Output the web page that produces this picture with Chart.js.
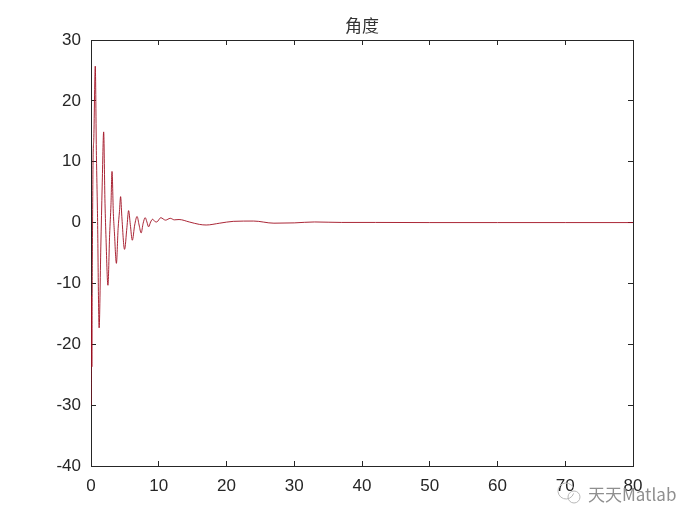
<!DOCTYPE html>
<html>
<head>
<meta charset="utf-8">
<style>
    html, body { margin: 0; padding: 0; background: #fff; }
    canvas { display: block; }
</style>
<script src="https://cdn.jsdelivr.net/npm/chart.js@4/dist/chart.umd.min.js"></script>
</head>
<body>
<canvas id="angleChart" width="700" height="525"></canvas>
<script>
// Values
const chartTitle = "角度";
const timeValues = [0, 0.05, 0.12, 0.2, 0.3, 0.42, 0.63, 0.8, 0.95, 1.2, 1.45, 1.65, 1.87, 2.05, 2.2, 2.5, 2.75, 2.95, 3.1, 3.3, 3.45, 3.75, 4.0, 4.2, 4.37, 4.55, 4.95, 5.3, 5.55, 5.8, 6.1, 6.45, 6.8, 7.1, 7.4, 7.7, 8.0, 8.25, 8.5, 8.8, 9.1, 9.4, 9.7, 10.3, 11.0, 11.7, 12.3, 13, 14.5, 16, 17, 19, 21, 24, 27, 30, 33, 37, 42, 50, 60, 70, 80];
const angleValues = [-30, -12, -23.7, -6, 10, 14, 25.7, 11, 2, -17.3, -4, 6, 14.9, 4, -2, -10.3, -2, 3, 8.4, 1.5, -1.5, -6.7, -1, 1.8, 4.26, 1, -4.4, -0.8, 1.96, -0.3, -2.9, -0.4, 1.0, -0.4, -1.7, -0.1, 0.8, 0.1, -0.7, 0.1, 0.55, 0.2, 0.1, 0.8, 0.4, 0.7, 0.45, 0.5, 0.1, -0.3, -0.4, -0.1, 0.2, 0.25, -0.1, -0.05, 0.1, 0.02, 0.02, 0, 0, 0, 0];
const xTicks = [0, 10, 20, 30, 40, 50, 60, 70, 80];
const yTicks = [-40, -30, -20, -10, 0, 10, 20, 30];
const watermark = "天天Matlab";

const axisColor = "#262626";
const tickFont = { family: "'Liberation Sans', Arial, sans-serif", size: 17 };

// Common part of the four box axes, ticks point into the plot
function boxAxis(position, min, max, step, showLabels, fitSize) {
    return {
        type: "linear",
        position: position,
        min: min,
        max: max,
        afterBuildTicks: (scale) => {
            const values = (position === "bottom" || position === "top") ? xTicks : yTicks;
            scale.ticks = values.map((v) => ({ value: v }));
        },
        afterFit: (scale) => {
            if (scale.isHorizontal()) scale.height = fitSize;
            else scale.width = fitSize;
        },
        border: { display: true, color: axisColor, width: 1 },
        grid: { drawOnChartArea: false, drawTicks: true, tickLength: -5, color: axisColor, lineWidth: 1 },
        ticks: { display: showLabels, color: axisColor, font: tickFont, padding: 15, maxRotation: 0, autoSkip: false, stepSize: step },
    };
}

// Watermark in the lower right corner
const watermarkPlugin = {
    id: "watermark",
    afterDraw(chart) {
        const ctx = chart.ctx;
        ctx.save();
        ctx.strokeStyle = "#b8b8b8";
        ctx.lineWidth = 1;
        ctx.beginPath();
        ctx.arc(566, 491, 8, 0.3, 6.0);
        ctx.stroke();
        ctx.beginPath();
        ctx.arc(574, 497, 6, 0, 6.28);
        ctx.stroke();
        ctx.fillStyle = "#8f8f8f";
        ctx.font = "17px 'Noto Sans CJK SC', 'Liberation Sans', sans-serif";
        ctx.textBaseline = "middle";
        ctx.fillText(watermark, 588, 495);
        ctx.restore();
    },
};

const ctx = document.getElementById("angleChart").getContext("2d");

const xTop = boxAxis("top", 0, 80, 10, false, 40);
xTop.title = {
    display: true,
    text: chartTitle,
    color: "#333333",
    font: { family: "'Noto Sans CJK SC', sans-serif", size: 17 },
    padding: { top: 15, bottom: 0 },
};

new Chart(ctx, {
    type: "line",
    data: {
        datasets: [
            {
                label: chartTitle,
                data: timeValues.map((t, i) => ({ x: t, y: angleValues[i] })),
                borderColor: "#a00f20",
                borderWidth: 0.9,
                pointRadius: 0,
                cubicInterpolationMode: "monotone",
                xAxisID: "x",
                yAxisID: "y",
            },
        ],
    },
    options: {
        responsive: false,
        animation: false,
        layout: { padding: 0 },
        plugins: {
            legend: { display: false },
            title: { display: false },
            tooltip: { enabled: false },
        },
        scales: {
            x: boxAxis("bottom", 0, 80, 10, true, 59),
            y: boxAxis("left", -40, 30, 10, true, 91),
            xTop: xTop,
            yRight: boxAxis("right", -40, 30, 10, false, 67),
        },
    },
    plugins: [watermarkPlugin],
});
</script>
</body>
</html>
